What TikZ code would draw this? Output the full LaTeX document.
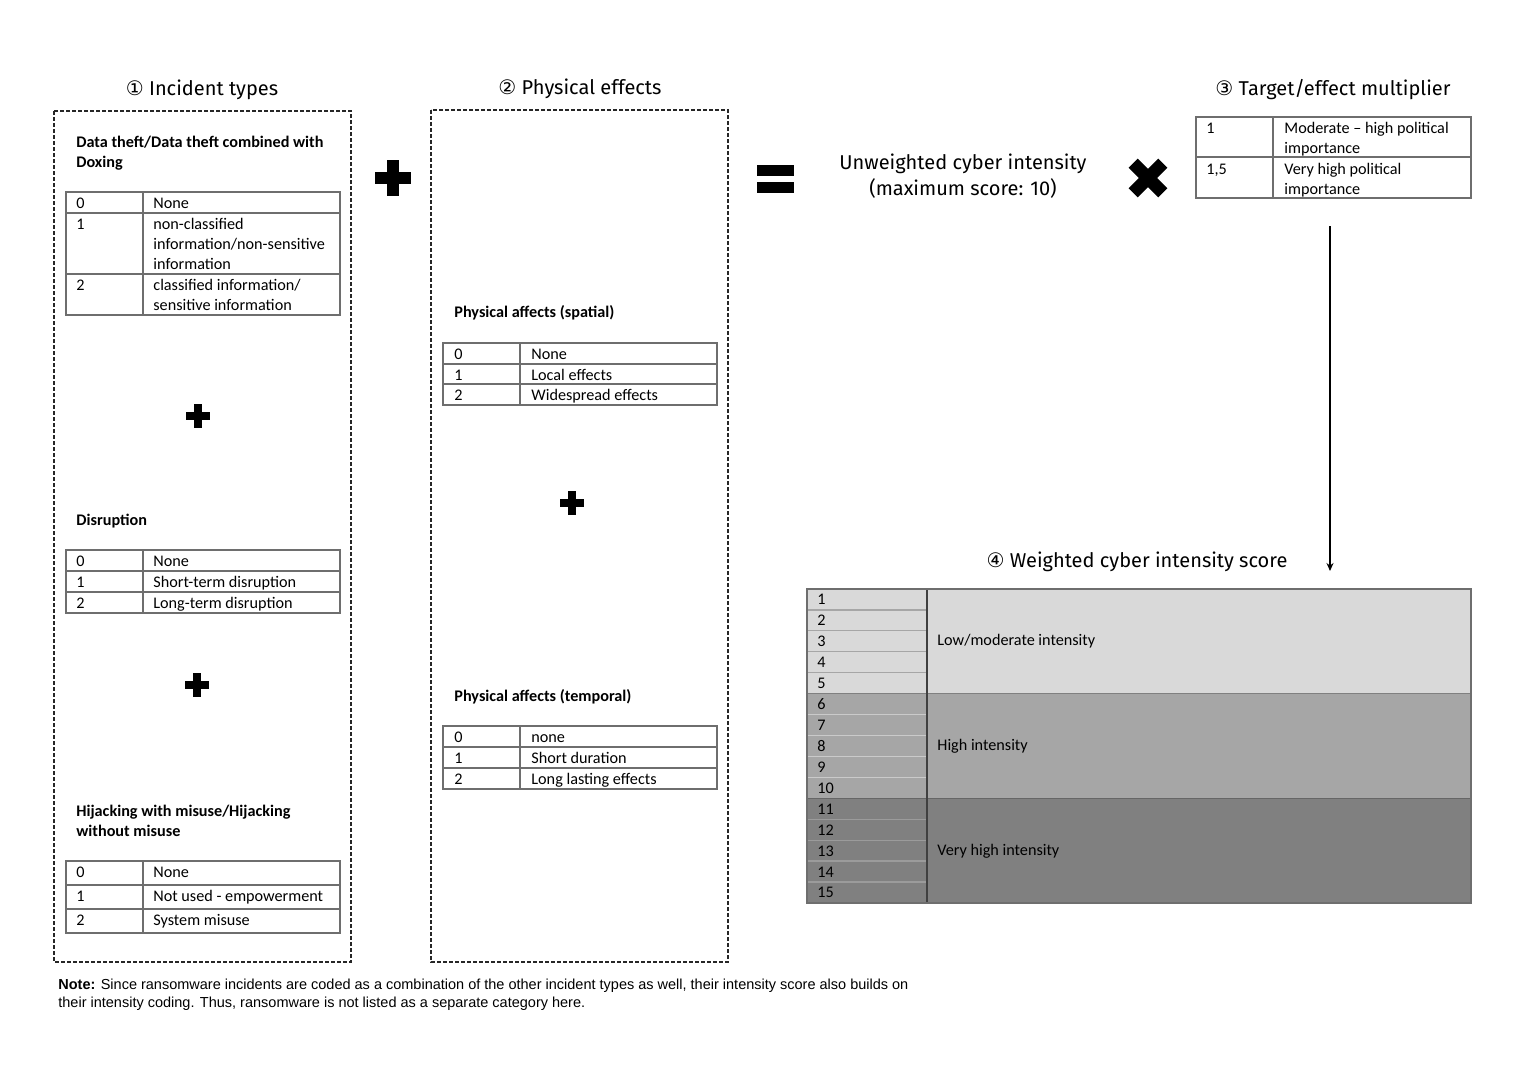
\documentclass[tikz,border=0pt]{standalone}
\usepackage{fontspec}
\usetikzlibrary{arrows.meta}
\setmainfont{Carlito}
\newfontfamily\titlefont{Fira Sans}
\newfontfamily\symfont{DejaVu Sans}
\newfontfamily\notefont{Liberation Sans}
\definecolor{tgray}{RGB}{110,110,110}
\definecolor{lowc}{RGB}{217,217,217}
\definecolor{midc}{RGB}{166,166,166}
\definecolor{highc}{RGB}{128,128,128}
\begin{document}
\begin{tikzpicture}[x=0.5pt,y=-0.5pt,
  dashbox/.style={draw=black!85, line width=1pt, dash pattern=on 2pt off 1pt},
  tline/.style={draw=tgray, line width=0.6pt},
  cell/.style={anchor=base west, inner sep=0pt, font=\fontsize{8.1}{10}\selectfont},
  head/.style={anchor=base west, inner sep=0pt, font=\bfseries\fontsize{8.1}{10}\selectfont},
  title/.style={inner sep=0pt, font=\titlefont\fontsize{10}{12}\selectfont},
  symb/.style={fill=black}
]
\useasboundingbox (0,0) rectangle (1536,1086);

% ---------- Box 1 ----------
\node[title] (t1) at (202,90) {{\symfont ①} Incident types};
\draw[dashbox] (54,111) rectangle (351,962);

\node[head] (h1a) at (76,147.5) {Data theft/Data theft combined with};
\node[head] (h1b) at (76,167.5) {Doxing};
\draw[tline] (66,192) rectangle (340,315);
\draw[tline] (143,192) -- (143,315);
\draw[tline] (66,213) -- (340,213);
\draw[tline] (66,274) -- (340,274);
\node[cell] (a0) at (76,208.5) {0};
\node[cell] (a0t) at (153,208.5) {None};
\node[cell] (a1) at (76,229.5) {1};
\node[cell] (a1t) at (153,229.5) {non-classified};
\node[cell] (a1u) at (153,249.5) {information/non-sensitive};
\node[cell] (a1v) at (153,269.5) {information};
\node[cell] (a2) at (76,290.5) {2};
\node[cell] (a2t) at (153,290.5) {classified information/};
\node[cell] (a2u) at (153,310.5) {sensitive information};

\fill[symb] (186,412) rectangle (210,420);
\fill[symb] (194,404) rectangle (202,428);

\node[head] (h2) at (76,525.5) {Disruption};
\draw[tline] (66,550) rectangle (340,613);
\draw[tline] (143,550) -- (143,613);
\draw[tline] (66,571) -- (340,571);
\draw[tline] (66,592) -- (340,592);
\node[cell] (b0) at (76,566.5) {0};
\node[cell] (b0t) at (153,566.5) {None};
\node[cell] (b1) at (76,587.5) {1};
\node[cell] (b1t) at (153,587.5) {Short-term disruption};
\node[cell] (b2) at (76,608.5) {2};
\node[cell] (b2t) at (153,608.5) {Long-term disruption};

\fill[symb] (185,681) rectangle (209,689);
\fill[symb] (193,673) rectangle (201,697);

\node[head] (h3a) at (76,816.5) {Hijacking with misuse/Hijacking};
\node[head] (h3b) at (76,836.5) {without misuse};
\draw[tline] (66,861) rectangle (340,933);
\draw[tline] (143,861) -- (143,933);
\draw[tline] (66,885) -- (340,885);
\draw[tline] (66,909) -- (340,909);
\node[cell] (c0) at (76,877.5) {0};
\node[cell] (c0t) at (153,877.5) {None};
\node[cell] (c1) at (76,901.5) {1};
\node[cell] (c1t) at (153,901.5) {Not used - empowerment};
\node[cell] (c2) at (76,925.5) {2};
\node[cell] (c2t) at (153,925.5) {System misuse};

% ---------- Big plus between boxes ----------
\fill[symb] (375,172) rectangle (411,184);
\fill[symb] (387,160) rectangle (399,196);

% ---------- Box 2 ----------
\node[title] (t2) at (580,89) {{\symfont ②} Physical effects};
\draw[dashbox] (431,110) rectangle (728,962);

\node[head] (h4) at (454,317.5) {Physical affects (spatial)};
\draw[tline] (443,343) rectangle (717,405);
\draw[tline] (520,343) -- (520,405);
\draw[tline] (443,364) -- (717,364);
\draw[tline] (443,384) -- (717,384);
\node[cell] (d0) at (454,359.5) {0};
\node[cell] (d0t) at (531,359.5) {None};
\node[cell] (d1) at (454,380.5) {1};
\node[cell] (d1t) at (531,380.5) {Local effects};
\node[cell] (d2) at (454,400.5) {2};
\node[cell] (d2t) at (531,400.5) {Widespread effects};

\fill[symb] (560,499) rectangle (584,507);
\fill[symb] (568,491) rectangle (576,515);

\node[head] (h5) at (454,701.5) {Physical affects (temporal)};
\draw[tline] (443,726) rectangle (717,789);
\draw[tline] (520,726) -- (520,789);
\draw[tline] (443,747) -- (717,747);
\draw[tline] (443,768) -- (717,768);
\node[cell] (e0) at (454,742.5) {0};
\node[cell] (e0t) at (531,742.5) {none};
\node[cell] (e1) at (454,763.5) {1};
\node[cell] (e1t) at (531,763.5) {Short duration};
\node[cell] (e2) at (454,784.5) {2};
\node[cell] (e2t) at (531,784.5) {Long lasting effects};

% ---------- Equals ----------
\fill[symb] (757,165) rectangle (794,176);
\fill[symb] (757,182) rectangle (794,193);

\node[title, align=center, font=\titlefont\fontsize{10}{13}\selectfont] (unw) at (963,176) {Unweighted cyber intensity\\(maximum score: 10)};

% ---------- Times ----------
\begin{scope}[shift={(1148,178)}, rotate=45]
\fill[symb] (-21,-6.5) rectangle (21,6.5);
\fill[symb] (-6.5,-21) rectangle (6.5,21);
\end{scope}

% ---------- Box 3 ----------
\node[title] (t3) at (1333,90) {{\symfont ③} Target/effect multiplier};
\draw[tline] (1196,117) rectangle (1471,198);
\draw[tline] (1273,117) -- (1273,198);
\draw[tline] (1196,157) -- (1471,157);
\node[cell] (f0) at (1206,133.5) {1};
\node[cell] (f0t) at (1284,133.5) {Moderate -- high political};
\node[cell] (f0u) at (1284,153.5) {importance};
\node[cell] (f1) at (1206,174.5) {1,5};
\node[cell] (f1t) at (1284,174.5) {Very high political};
\node[cell] (f1u) at (1284,194.5) {importance};

\coordinate (arrS) at (1330,226);
\coordinate (arrE) at (1330,571);
\draw[line width=0.8pt, -{Stealth[length=4pt,width=3.5pt]}] (arrS) -- (arrE);

% ---------- Box 4 ----------
\node[title] (t4) at (1137,562) {{\symfont ④} Weighted cyber intensity score};

\fill[lowc] (807,589) rectangle (1471,693.6);
\fill[midc] (807,693.6) rectangle (1471,798.3);
\fill[highc] (807,798.3) rectangle (1471,903);
\foreach \i in {1,...,4} {
  \draw[draw=midc, line width=0.6pt] (807,589+\i*20.93) -- (927,589+\i*20.93);
}
\foreach \i in {6,...,9} {
  \draw[draw=lowc!70!midc, line width=0.6pt] (807,589+\i*20.93) -- (927,589+\i*20.93);
}
\foreach \i in {11,...,14} {
  \draw[draw=midc!70!highc, line width=0.6pt] (807,589+\i*20.93) -- (927,589+\i*20.93);
}
\draw[draw=highc, line width=0.8pt] (807,693.6) -- (1471,693.6);
\draw[draw=black!60, line width=0.8pt] (807,798.3) -- (1471,798.3);
\draw[draw=black!75, line width=0.6pt] (927,589) -- (927,903);
\draw[draw=tgray, line width=0.6pt] (807,589) rectangle (1471,903);
\foreach \i in {1,...,15} {
  \node[cell] (n\i) at (817,589+\i*20.93-5) {\i};
}
\node[cell] (lowl) at (937,645.5) {Low/moderate intensity};
\node[cell] (highl) at (937,750.5) {High intensity};
\node[cell] (vhighl) at (937,855.5) {Very high intensity};

% ---------- Note ----------
\node[anchor=base west, inner sep=0pt, font=\notefont\fontsize{7.25}{9}\selectfont] (note1) at (58,989)
{\textbf{Note:} Since ransomware incidents are coded as a combination of the other incident types as well, their intensity score also builds on};
\node[anchor=base west, inner sep=0pt, font=\notefont\fontsize{7.25}{9}\selectfont] (note2) at (58,1007)
{their intensity coding. Thus, ransomware is not listed as a separate category here.};
\end{tikzpicture}
\end{document}
